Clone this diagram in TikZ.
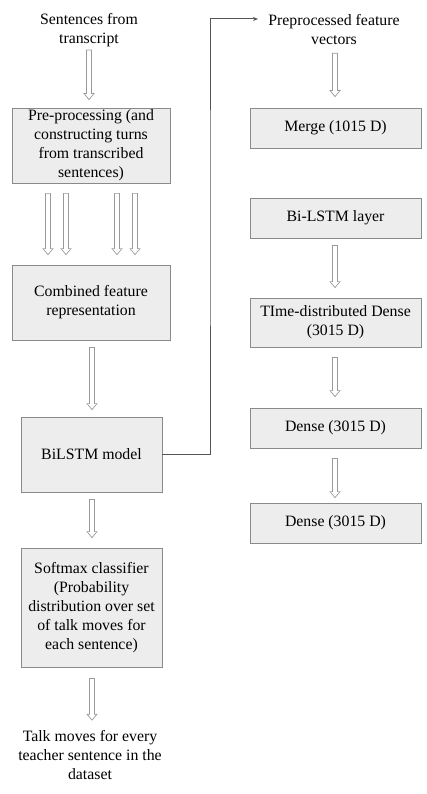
\documentclass[tikz,border=0pt]{standalone}
\usepackage{fontspec}
\setmainfont{Liberation Serif}
\usetikzlibrary{calc,arrows.meta}
\definecolor{boxfill}{HTML}{EDEDED}
\definecolor{boxline}{HTML}{8A8A8A}
\definecolor{arrowline}{HTML}{9A9A9A}
\definecolor{linkcol}{HTML}{555555}
\begin{document}
\begin{tikzpicture}[x=1pt,y=-1pt,
        font=\fontsize{15.8}{19}\selectfont,
        box/.style={draw=boxline,fill=boxfill,line width=0.8pt,align=center,inner sep=0pt},
        txt/.style={align=center,inner sep=0pt},
        hollow/.style={draw=arrowline,fill=white,line width=0.7pt,
            to path={let \p1=(\tikztostart),\p2=(\tikztotarget) in
                (\x1-2.5pt,\y1) -- (\x1+2.5pt,\y1) -- (\x2+2.5pt,\y2+6pt) -- (\x2+5pt,\y2+6pt)
                -- (\x2,\y2) -- (\x2-5pt,\y2+6pt) -- (\x2-2.5pt,\y2+6pt) -- cycle}},
        link/.style={draw=linkcol,line width=1pt,-{Stealth[length=5pt,width=4pt]}}]
        \useasboundingbox (0,0) rectangle (426,794);

        % left column
        \node [txt](src)at(89,30){Sentences from\\transcript};
        \node [box,minimum width=158pt,minimum height=75pt](pre)at(91,145.5){Pre-processing (and\\constructing turns\\from transcribed\\sentences)};
        \node [box,minimum width=158pt,minimum height=75pt](comb)at(91,302.5){Combined feature\\representation};
        \node [box,minimum width=141pt,minimum height=75pt](bilstm)at(91.5,454.5){BiLSTM model};
        \node [box,minimum width=141pt,minimum height=119pt](soft)at(91.5,607.5){Softmax classifier\\(Probability\\distribution over set\\of talk moves for\\each sentence)};
        \node [txt](out)at(90,755){Talk moves for every\\teacher sentence in the\\dataset};

        % right column
        \node [txt](vec)at(334,30){Preprocessed feature\\vectors};
        \node [box,minimum width=171pt,minimum height=40pt](merge)at(335.5,128){Merge (1015 D)};
        \node [box,minimum width=171pt,minimum height=40pt](bil)at(335.5,218){Bi-LSTM layer};
        \node [box,minimum width=171pt,minimum height=49pt](tdd)at(335.5,322.5){TIme-distributed Dense\\(3015 D)};
        \node [box,minimum width=171pt,minimum height=40pt](d1)at(335.5,428){Dense (3015 D)};
        \node [box,minimum width=171pt,minimum height=40pt](d2)at(335.5,523){Dense (3015 D)};

        \coordinate (jog)at(210,200);
        \coordinate (vecin)at(258,19);

        \draw [hollow] ($(src.south)+(0,3)$) to ($(pre.north)+(-2,-8)$);
        \draw [hollow] ($(pre.south)+(-43,10)$) to ($(comb.north)+(-43,-10)$);
        \draw [hollow] ($(pre.south)+(-25,10)$) to ($(comb.north)+(-25,-10)$);
        \draw [hollow] ($(pre.south)+(26,10)$) to ($(comb.north)+(26,-10)$);
        \draw [hollow] ($(pre.south)+(44,10)$) to ($(comb.north)+(44,-10)$);
        \draw [hollow] ($(comb.south)+(1,7)$) to ($(bilstm.north)+(0.5,-7)$);
        \draw [hollow] ($(bilstm.south)+(0.5,7)$) to ($(soft.north)+(0.5,-10)$);
        \draw [hollow] ($(soft.south)+(0.5,11)$) to ($(out.north)+(2,-10)$);

        \draw [hollow] ($(vec.south)+(1,8)$) to ($(merge.north)+(-0.5,-11)$);
        \draw [hollow] ($(bil.south)+(-0.5,7)$) to ($(tdd.north)+(-0.5,-10)$);
        \draw [hollow] ($(tdd.south)+(-0.5,10)$) to ($(d1.north)+(-0.5,-11)$);
        \draw [hollow] ($(d1.south)+(-0.5,10)$) to ($(d2.north)+(-0.5,-5)$);

        \draw [link] (bilstm.east) -| (jog) |- (vecin);
    \end{tikzpicture}
\end{document}
